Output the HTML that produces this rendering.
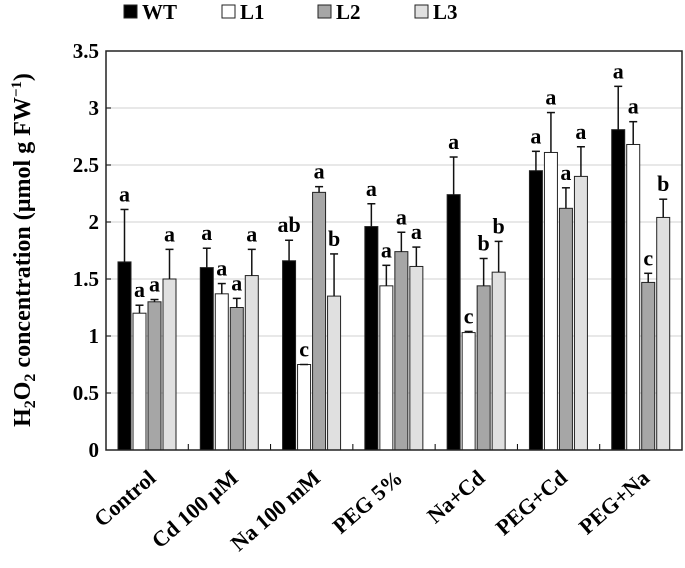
<!DOCTYPE html>
<html><head><meta charset="utf-8"><style>
body{margin:0;background:#fff}
svg{display:block;font-family:"Liberation Serif",serif}
</style></head><body>
<svg id="c" width="685" height="568" viewBox="0 0 685 568"></svg>
<script>
const categories=["Control","Cd 100 µM","Na 100 mM","PEG 5%","Na+Cd","PEG+Cd","PEG+Na"];
const seriesNames=["WT","L1","L2","L3"];
const wt=[1.65,1.60,1.66,1.96,2.24,2.45,2.81];
const l1=[1.20,1.37,0.75,1.44,1.03,2.61,2.68];
const l2=[1.30,1.25,2.26,1.74,1.44,2.12,1.47];
const l3=[1.50,1.53,1.35,1.61,1.56,2.40,2.04];
const wtErr=[0.46,0.17,0.18,0.20,0.33,0.17,0.38];
const l1Err=[0.07,0.09,0.00,0.18,0.01,0.35,0.20];
const l2Err=[0.02,0.08,0.05,0.17,0.24,0.18,0.08];
const l3Err=[0.26,0.23,0.37,0.17,0.27,0.26,0.16];
const wtLet=["a","a","ab","a","a","a","a"];
const l1Let=["a","a","c","a","c","a","a"];
const l2Let=["a","a","a","a","b","a","c"];
const l3Let=["a","a","b","a","b","a","b"];
const yTicks=[0,0.5,1,1.5,2,2.5,3,3.5];
const yTickLabels=["0","0.5","1","1.5","2","2.5","3","3.5"];

const NS="http://www.w3.org/2000/svg";
const svg=document.getElementById('c');
const L=106,R=682,T=51,B=450,yMax=3.5;
const y=v=>B-(v/yMax)*(B-T);
const gw=(R-L)/categories.length;
const x=(g,s)=>L+g*gw+12+s*15;
function el(t,a,p){const e=document.createElementNS(NS,t);for(const k in a)e.setAttribute(k,a[k]);(p||svg).appendChild(e);return e;}
const fills=["#000","#fff","#a6a6a6","#e0e0e0"];
const vals=[wt,l1,l2,l3],errs=[wtErr,l1Err,l2Err,l3Err],lets=[wtLet,l1Let,l2Let,l3Let];

yTicks.forEach((t,i)=>{
  if(t>0&&t<yMax){const g=el('line',{x1:L,x2:R,y1:y(t),y2:y(t),stroke:'#d9d9d9','stroke-width':1.2});
  
  }
  const tk=el('line',{x1:L,x2:L+5,y1:y(t),y2:y(t),stroke:'#000'});
  
  
  const tl=el('text',{x:L-7,y:y(t)+7,'text-anchor':'end','font-size':21,'font-weight':'bold'});
  tl.textContent=yTickLabels[i];
  
  
});
for(let g=1;g<categories.length;g++){
  const t=el('line',{x1:L+g*gw,x2:L+g*gw,y1:B,y2:B-6,stroke:'#000'});
  
  
}
categories.forEach((c,g)=>{
  for(let s=0;s<4;s++){
    const v=vals[s][g],e=errs[s][g],bx=x(g,s);
    const r=el('rect',{x:bx,y:y(v),width:13,height:B-y(v),fill:fills[s],stroke:'#222','stroke-width':1});
    
    
    const cx=bx+6.5;
    if(e>0){
      const eb=el('line',{x1:cx,x2:cx,y1:y(v),y2:y(v+e),stroke:'#111','stroke-width':1.5});
      
      
    }
    const cap=el('line',{x1:cx-4,x2:cx+4,y1:y(v+e),y2:y(v+e),stroke:'#111','stroke-width':1.5});
    
    
    const lt=el('text',{x:cx,y:y(v+e)-8,'text-anchor':'middle','font-size':22,'font-weight':'bold'});
    lt.textContent=lets[s][g];
    
    
  }
  const cx=L+g*gw+gw/2+10, cy=B+30;
  const xl=el('text',{x:cx,y:cy,'text-anchor':'end','font-size':22,'font-weight':'bold',transform:`rotate(-41 ${cx} ${cy})`});
  xl.textContent=c;
  
  
});
const fr=el('rect',{x:L,y:T,width:R-L,height:B-T,fill:'none',stroke:'#222','stroke-width':1.5});



const legX=[124,222,318,415];
seriesNames.forEach((n,i)=>{
  const r=el('rect',{x:legX[i],y:5,width:13,height:13,fill:fills[i],stroke:'#222'});
  
  
  const t=el('text',{x:legX[i]+18,y:19,'font-size':21,'font-weight':'bold'});
  t.textContent=n;
  
  
});
</script>
<div style="position:absolute;left:0;top:0;width:685px;height:568px;pointer-events:none">
<svg width="685" height="568" style="position:absolute;left:0;top:0">
<text transform="rotate(-90 30 250)" x="30" y="250" text-anchor="middle" font-family="Liberation Serif,serif" font-size="24" font-weight="bold">H<tspan font-size="16" dy="5">2</tspan><tspan dy="-5">O</tspan><tspan font-size="16" dy="5">2</tspan><tspan dy="-5"> concentration (µmol g FW</tspan><tspan font-size="15" dy="-9">−1</tspan><tspan dy="9">)</tspan></text>
</svg></div>
</body></html>
